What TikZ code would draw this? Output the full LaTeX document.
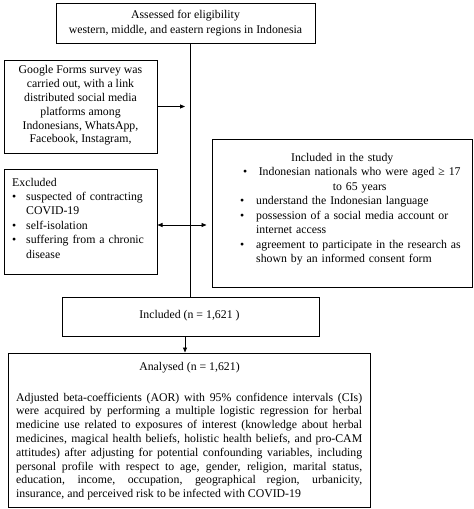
\documentclass[tikz,border=0pt]{standalone}
\usepackage{fontspec}
\setmainfont{Liberation Serif}
\usetikzlibrary{arrows.meta}
\newcommand{\fz}[1]{\fontsize{11.8}{#1}\selectfont}
\newcommand{\blt}[1]{\makebox[#1][l]{\textbullet}}
\begin{document}
\begin{tikzpicture}[x=1pt,y=-1pt,
  frame/.style={draw, line width=1pt, inner sep=0pt},
  txt/.style={inner sep=0pt},
  conn/.style={line width=0.9pt},
  tip/.style={-{Triangle[length=5pt,width=4pt]}},
  tips/.style={{Triangle[length=5pt,width=4pt]}-{Triangle[length=5pt,width=4pt]}}]
\useasboundingbox (0,0) rectangle (474,509);
% frames
\node[frame, minimum width=259pt, minimum height=40pt] (top) at (185.5,23) {};
\node[frame, minimum width=153pt, minimum height=93pt] (google) at (80.5,106.5) {};
\node[frame, minimum width=153pt, minimum height=105pt] (excl) at (80.5,221.5) {};
\node[frame, minimum width=260pt, minimum height=148pt] (study) at (342,213) {};
\node[frame, minimum width=257pt, minimum height=39pt] (inc) at (190.5,316.5) {};
\node[frame, minimum width=362pt, minimum height=154pt] (ana) at (189,430) {};
% texts
\node[txt, align=center, font=\fz{14.3}] (toptxt) at (185.5,23)
  {Assessed for eligibility\\western, middle, and eastern regions in Indonesia};
\node[txt, align=center, font=\fz{13.8}] (googletxt) at (80.5,105.5)
  {Google Forms survey was\\carried out, with a link\\distributed social media\\platforms among\\Indonesians, WhatsApp,\\Facebook, Instagram,};
\node[txt, text width=140pt, align=left, font=\fz{14.4}, anchor=base west] (excltxt) at (12,186)
  {Excluded\\
   \blt{14pt}suspected of contracting\\
   \hspace*{14pt}COVID-19\\
   \blt{14pt}self-isolation\\
   \blt{14pt}suffering from a chronic\\
   \hspace*{14pt}disease};
\node[txt, text width=225pt, align=left, font=\fz{14.5}, anchor=base west] (studytxt) at (240,161)
  {\makebox[204pt][c]{Included in the study}\\
   \hspace*{3pt}\blt{16pt}\makebox[201pt][c]{Indonesian nationals who were aged ≥ 17}\\
   \hspace*{19pt}\makebox[201pt][c]{to 65 years}\\
   \blt{16pt}understand the Indonesian language\\
   \blt{16pt}possession of a social media account or\\
   \hspace*{16pt}internet access\\
   \blt{16pt}agreement to participate in the research as\\
   \hspace*{16pt}shown by an informed consent form};
\node[txt, font=\fz{14}] (inctxt) at (189.5,316) {Included (n = 1,621 )};
\node[txt, font=\fz{14}] (anatitle) at (189.5,368) {Analysed (n = 1,621)};
\node[txt, text width=346pt, align=justify, font=\fz{13.8}, anchor=base west] (anatxt) at (16,401)
  {Adjusted beta-coefficients (AOR) with 95\% confidence intervals (CIs)\linebreak
   were acquired by performing a multiple logistic regression for herbal\linebreak
   medicine use related to exposures of interest (knowledge about herbal\linebreak
   medicines, magical health beliefs, holistic health beliefs, and pro-CAM\linebreak
   attitudes) after adjusting for potential confounding variables, including\linebreak
   personal profile with respect to age, gender, religion, marital status,\linebreak
   education, income, occupation, geographical region, urbanicity,\linebreak
   insurance, and perceived risk to be infected with COVID-19};
% connectors
\coordinate (spine) at (190,0);
\coordinate (arrx) at (185,0);
\coordinate (dy) at (0,225);
\draw[conn] (top.south -| spine) -- (inc.north -| spine);
\draw[conn, tip, shorten >=5pt] (google.east) -- (google.east -| spine);
\draw[conn, tips, shorten >=5pt] (excl.east |- dy) -- (study.west |- dy);
\draw[conn, tip] (inc.south -| arrx) -- (ana.north -| arrx);
\end{tikzpicture}
\end{document}
